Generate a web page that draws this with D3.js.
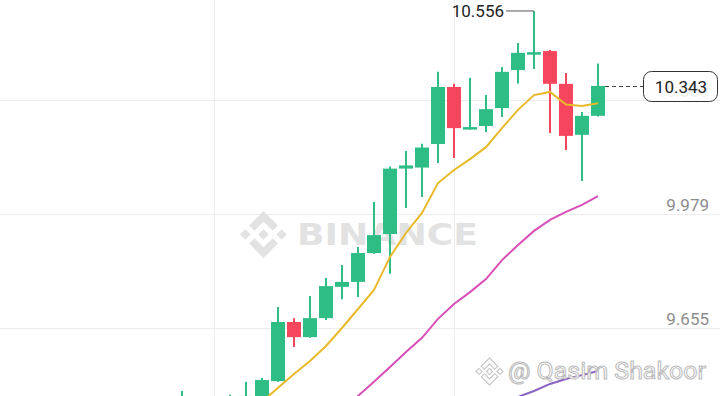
<!DOCTYPE html>
<html>
<head>
<meta charset="utf-8">
<script src="https://cdn.jsdelivr.net/npm/d3@7"></script>
<style>
  html, body { margin: 0; padding: 0; background: #ffffff; }
  svg { display: block; }
</style>
</head>
<body>
<svg id="chart" width="720" height="396"></svg>
<script>
// ---- data ----
const candles = ["c01","c02","c03","c04","c05","c06","c07","c08","c09","c10","c11","c12","c13","c14","c15","c16","c17","c18","c19","c20","c21","c22","c23","c24","c25","c26","c27"];
const open  = [9.44, 9.43, 9.44, 9.44, 9.45, 9.46, 9.504, 9.672, 9.629, 9.683, 9.772, 9.786, 9.868, 9.922, 10.108, 10.111, 10.178, 10.340, 10.221, 10.229, 10.280, 10.388, 10.434, 10.442, 10.349, 10.204, 10.258];
const high  = [9.476, 9.455, 9.458, 9.465, 9.502, 9.513, 9.715, 9.683, 9.746, 9.797, 9.834, 9.885, 10.013, 10.114, 10.158, 10.179, 10.383, 10.349, 10.366, 10.317, 10.397, 10.465, 10.556, 10.445, 10.380, 10.269, 10.407];
const low   = [9.42, 9.40, 9.41, 9.42, 9.43, 9.45, 9.502, 9.601, 9.627, 9.678, 9.737, 9.743, 9.866, 9.809, 9.996, 10.027, 10.124, 10.138, 10.219, 10.212, 10.255, 10.349, 10.391, 10.209, 10.161, 10.073, 10.256];
const close = [9.46, 9.445, 9.45, 9.455, 9.462, 9.507, 9.672, 9.629, 9.683, 9.774, 9.786, 9.868, 9.919, 10.108, 10.117, 10.168, 10.340, 10.223, 10.226, 10.277, 10.383, 10.437, 10.439, 10.349, 10.201, 10.258, 10.343];
const ma7   = [null, null, null, null, null, 9.445, 9.485, 9.524, 9.561, 9.604, 9.655, 9.709, 9.763, 9.857, 9.925, 9.982, 10.067, 10.104, 10.135, 10.169, 10.223, 10.275, 10.317, 10.326, 10.290, 10.286, 10.294];
const ma25  = [null, null, null, null, null, null, null, null, null, null, 9.422, 9.462, 9.502, 9.544, 9.587, 9.627, 9.681, 9.723, 9.757, 9.794, 9.848, 9.891, 9.931, 9.962, 9.985, 10.005, 10.030];
const ma99  = [null, null, null, null, null, null, null, null, null, null, null, null, null, null, null, null, null, null, null, null, 9.442, 9.459, 9.476, 9.496, 9.510, 9.521, 9.533];
const yTicks = [9.655, 9.979, 10.303];
const highLabel = "10.556";
const lastLabel = "10.343";
const lastPrice = 10.343;
const highPrice = 10.556;

// ---- scales ----
const svg = d3.select("#chart");
const W = 720, H = 396;
const x = d3.scaleBand().domain(candles).range([174, 606]).paddingInner(0.125).paddingOuter(0.0625);
const y = d3.scaleLinear().domain([9.655, 10.303]).range([328, 100]);
const cx = c => x(c) + x.bandwidth() / 2;

const UP = "#2ebd85", DOWN = "#f6465d";

// gridlines
const grid = svg.append("g");
grid.selectAll("line.h").data(yTicks).join("line")
  .attr("x1", 0).attr("x2", W)
  .attr("y1", d => Math.round(y(d)) + 0.5).attr("y2", d => Math.round(y(d)) + 0.5)
  .attr("stroke", "#ececec").attr("stroke-width", 1);
const vGridCandles = ["c03", "c18"];
grid.selectAll("line.v").data(vGridCandles).join("line")
  .attr("x1", d => Math.round(cx(d)) + 0.5).attr("x2", d => Math.round(cx(d)) + 0.5)
  .attr("y1", 0).attr("y2", H)
  .attr("stroke", "#ececec").attr("stroke-width", 1);

// BINANCE watermark (behind)
const logoPolys = [
  [[38.73,53.2],[63.3,28.63],[87.89,53.22],[102.19,38.92],[63.3,0],[24.42,38.9]],
  [[0,63.3],[14.3,49],[28.6,63.3],[14.3,77.6]],
  [[63.3,48.99],[77.61,63.3],[63.3,77.61],[48.99,63.3]],
  [[98.01,63.3],[112.31,49],[126.61,63.3],[112.31,77.6]],
  [[87.89,73.4],[63.3,97.98],[38.73,73.41],[24.41,87.69],[63.3,126.61],[102.19,87.69]]
];
const wm = svg.append("g").attr("transform", "translate(240,211) scale(" + (47/126.61) + ")");
wm.selectAll("polygon").data(logoPolys).join("polygon")
  .attr("points", d => d.map(p => p.join(",")).join(" "))
  .attr("fill", "#e2e2e2");
svg.append("text").attr("x", 297).attr("y", 245)
  .attr("font-family", "'DejaVu Sans', sans-serif").attr("font-weight", "bold")
  .attr("font-size", 31).attr("fill", "#e2e2e2")
  .attr("textLength", 181).attr("lengthAdjust", "spacingAndGlyphs")
  .text("BINANCE");

// y labels
svg.append("g").selectAll("text").data(yTicks).join("text")
  .attr("x", 709).attr("y", d => y(d) - 3)
  .attr("text-anchor", "end")
  .attr("font-family", "Roboto, sans-serif").attr("font-size", 17)
  .attr("fill", "#8c8c8c")
  .text(d => d3.format(".3f")(d));

// MA lines
const maLine = arr => d3.line()
  .defined((d, i) => arr[i] !== null)
  .x((d, i) => cx(candles[i]))
  .y((d, i) => y(arr[i]));
svg.append("path").attr("d", maLine(ma99)(candles))
  .attr("fill", "none").attr("stroke", "#8a63c2").attr("stroke-width", 2);
svg.append("path").attr("d", maLine(ma25)(candles))
  .attr("fill", "none").attr("stroke", "#d94fb8").attr("stroke-width", 2);

// candles
const cg = svg.append("g");
const idx = d3.range(candles.length);
cg.selectAll("line.wick").data(idx).join("line")
  .attr("x1", i => cx(candles[i])).attr("x2", i => cx(candles[i]))
  .attr("y1", i => y(high[i])).attr("y2", i => y(low[i]))
  .attr("stroke", i => close[i] >= open[i] ? UP : DOWN).attr("stroke-width", 2);
cg.selectAll("rect.body").data(idx).join("rect")
  .attr("x", i => x(candles[i])).attr("width", x.bandwidth())
  .attr("y", i => Math.min(y(open[i]), y(close[i])))
  .attr("height", i => Math.max(2.5, Math.abs(y(open[i]) - y(close[i]))))
  .attr("fill", i => close[i] >= open[i] ? UP : DOWN);

// MA7 on top of candles
svg.append("path").attr("d", maLine(ma7)(candles))
  .attr("fill", "none").attr("stroke", "#e8b92a").attr("stroke-width", 2);

// high marker
const hi = high.indexOf(highPrice);
svg.append("line").attr("x1", 506).attr("x2", cx(candles[hi]))
  .attr("y1", y(highPrice)).attr("y2", y(highPrice))
  .attr("stroke", "#555").attr("stroke-width", 1);
svg.append("text").attr("x", 504).attr("y", y(highPrice) + 6)
  .attr("text-anchor", "end")
  .attr("font-family", "Roboto, sans-serif").attr("font-size", 17).attr("fill", "#222")
  .text(highLabel);

// last price dashed line + box
const ly = Math.round(y(lastPrice)) + 0.5;
svg.append("line").attr("x1", x(candles[candles.length - 1]) + x.bandwidth()).attr("x2", 643)
  .attr("y1", ly).attr("y2", ly)
  .attr("stroke", "#444").attr("stroke-width", 1).attr("stroke-dasharray", "4,3");
svg.append("rect").attr("x", 643.5).attr("y", 71.5).attr("width", 74).attr("height", 30).attr("rx", 8)
  .attr("fill", "rgba(255,255,255,0.88)").attr("stroke", "#333").attr("stroke-width", 1);
svg.append("text").attr("x", 681).attr("y", 93)
  .attr("text-anchor", "middle")
  .attr("font-family", "Roboto, sans-serif").attr("font-size", 17).attr("fill", "#222")
  .text(lastLabel);

// author watermark (on top)
const wm2 = svg.append("g").attr("transform", "translate(476,358) scale(" + (27/126.61) + ")");
wm2.selectAll("polygon").data(logoPolys).join("polygon")
  .attr("points", d => d.map(p => p.join(",")).join(" "))
  .attr("fill", "#ffffff").attr("stroke", "#c4c4c4").attr("stroke-width", 5);
svg.append("text").attr("x", 508).attr("y", 379)
  .attr("font-family", "Roboto, sans-serif").attr("font-size", 23)
  .attr("fill", "#ffffff").attr("stroke", "#bdbdbd").attr("stroke-width", 1)
  .attr("textLength", 198).attr("lengthAdjust", "spacingAndGlyphs")
  .text("@ Qasim Shakoor");
</script>
</body>
</html>
